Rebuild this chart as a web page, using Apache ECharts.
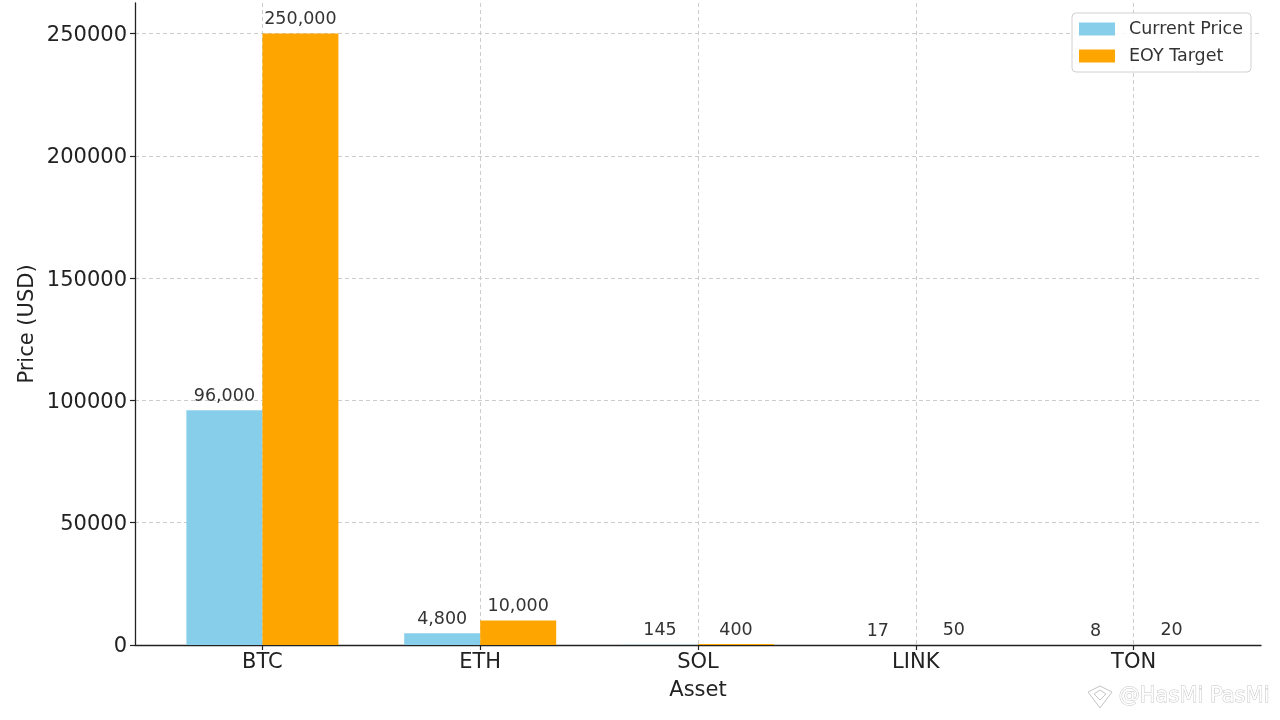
<!DOCTYPE html>
<html>
<head>
<meta charset="utf-8">
<script src="https://cdn.jsdelivr.net/npm/echarts@6/dist/echarts.min.js"></script>
<style>
html,body{margin:0;padding:0;background:#fff;}
#chart{width:1280px;height:720px;}
</style>
</head>
<body>
<div id="chart"></div>
<script>
const categories = ['BTC', 'ETH', 'SOL', 'LINK', 'TON'];
const currentPrice = [96000, 4800, 145, 17, 8];
const eoyTarget = [250000, 10000, 400, 50, 20];
const yTicks = [0, 50000, 100000, 150000, 200000, 250000];
const seriesNames = ['Current Price', 'EOY Target'];

const catIdx = categories.map((c, i) => i);
const FONT = 'DejaVu Sans';

const chart = echarts.init(document.getElementById('chart'), null, {renderer: 'canvas'});
const fmt = p => Number(p.value[1]).toLocaleString('en-US');

const option = {
  backgroundColor: '#ffffff',
  animation: false,
  textStyle: {fontFamily: FONT},
  grid: {left: 135, right: 19, top: 3, bottom: 75, containLabel: false},
  legend: {
    orient: 'vertical',
    right: 29,
    top: 13,
    data: seriesNames,
    icon: 'rect',
    itemWidth: 36,
    itemHeight: 13,
    itemGap: 9,
    padding: [7, 8, 7, 7],
    borderColor: '#d0d0d0',
    borderWidth: 1,
    borderRadius: 4,
    backgroundColor: 'rgba(255,255,255,0.85)',
    textStyle: {fontFamily: FONT, fontSize: 17.5, color: '#333', padding: [0, 0, 0, 9]}
  },
  xAxis: {
    type: 'value',
    min: -0.585,
    max: 4.585,
    name: 'Asset',
    nameLocation: 'middle',
    nameGap: 35,
    nameMoveOverlap: false,
    nameTextStyle: {fontFamily: FONT, fontSize: 21, color: '#222'},
    axisLine: {show: true, onZero: false, lineStyle: {color: '#222', width: 1.3}},
    axisTick: {show: true, length: 5, customValues: catIdx, lineStyle: {color: '#222', width: 1.2}},
    axisLabel: {
      customValues: catIdx,
      margin: 7,
      fontFamily: FONT, fontSize: 21, color: '#222',
      formatter: v => categories[Math.round(v)] || ''
    },
    splitLine: {show: true, lineStyle: {color: '#cccccc', type: [4, 3], width: 1}}
  },
  yAxis: {
    type: 'value',
    min: 0,
    max: 262500,
    name: 'Price (USD)',
    nameLocation: 'middle',
    nameGap: 97,
    nameMoveOverlap: false,
    nameTextStyle: {fontFamily: FONT, fontSize: 21, color: '#222'},
    axisLine: {show: true, onZero: false, lineStyle: {color: '#222', width: 1.3}},
    axisTick: {show: true, length: 5, customValues: yTicks, lineStyle: {color: '#222', width: 1.2}},
    axisLabel: {
      customValues: yTicks, margin: 8, fontFamily: FONT, fontSize: 21, color: '#222',
      formatter: v => '{a|' + String(v) + '}',
      rich: {a: {fontFamily: FONT, fontSize: 21, color: '#222', padding: [4, 0, 0, 0]}}
    },
    splitLine: {show: true, lineStyle: {color: '#cccccc', type: [4, 3], width: 1}}
  },
  series: [
    {
      name: seriesNames[0],
      type: 'bar',
      barWidth: 76,
      barGap: '0%',
      itemStyle: {color: '#87CEEB'},
      label: {show: true, position: 'top', distance: 5, fontFamily: FONT, fontSize: 17.5, color: '#333', formatter: fmt},
      data: currentPrice.map((v, i) => [catIdx[i], v])
    },
    {
      name: seriesNames[1],
      type: 'bar',
      barWidth: 76,
      barGap: '0%',
      itemStyle: {color: '#FFA500'},
      label: {show: true, position: 'top', distance: 5, fontFamily: FONT, fontSize: 17.5, color: '#333', formatter: fmt},
      data: eoyTarget.map((v, i) => [catIdx[i], v])
    }
  ],
  graphic: [
    {
      type: 'text',
      right: 10,
      top: 686,
      style: {text: '@HasMi PasMi', fontFamily: FONT, fontSize: 21, fill: '#ffffff', stroke: '#c4c4c4', lineWidth: 1}
    },
    {
      type: 'polyline',
      shape: {points: [[1088, 692], [1100, 686], [1112, 692], [1100, 708], [1088, 692]]},
      style: {fill: 'none', stroke: '#c4c4c4', lineWidth: 1}
    },
    {
      type: 'polyline',
      shape: {points: [[1094, 694], [1100, 690], [1106, 694], [1100, 700], [1094, 694]]},
      style: {fill: 'none', stroke: '#c4c4c4', lineWidth: 1}
    }
  ]
};
chart.setOption(option);
</script>
</body>
</html>
